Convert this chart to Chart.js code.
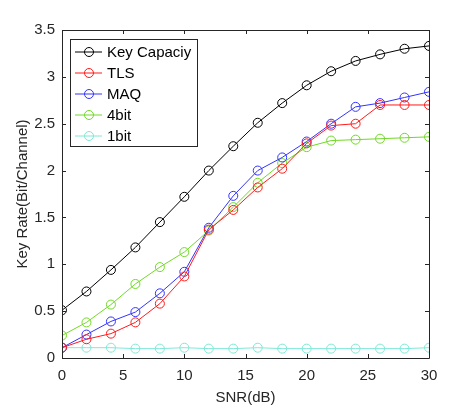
<!DOCTYPE html>
<html>
<head>
<meta charset="utf-8">
<script src="https://cdn.jsdelivr.net/npm/chart.js@4"></script>
<style>
  body { margin: 0; background: #fff; }
  #wrap { width: 474px; height: 405px; }
</style>
</head>
<body>
<div id="wrap"><canvas id="rateChart" width="474" height="405"></canvas></div>
<script>
// SNR values (dB)
const snr = [0, 2, 4, 6, 8, 10, 12, 14, 16, 18, 20, 22, 24, 26, 28, 30];

// Key rate series
const keyCapacity = [0.51, 0.71, 0.94, 1.18, 1.45, 1.72, 2.00, 2.26, 2.51, 2.72, 2.91, 3.06, 3.17, 3.24, 3.30, 3.33];
const tls = [0.11, 0.20, 0.26, 0.38, 0.58, 0.87, 1.37, 1.58, 1.82, 2.02, 2.29, 2.48, 2.50, 2.70, 2.70, 2.70];
const maq = [0.11, 0.25, 0.39, 0.49, 0.69, 0.92, 1.39, 1.73, 2.00, 2.14, 2.31, 2.50, 2.68, 2.72, 2.78, 2.84];
const bit4 = [0.24, 0.38, 0.57, 0.79, 0.97, 1.13, 1.36, 1.61, 1.87, 2.08, 2.25, 2.32, 2.33, 2.34, 2.35, 2.36];
const bit1 = [0.11, 0.11, 0.11, 0.10, 0.10, 0.11, 0.10, 0.10, 0.11, 0.10, 0.10, 0.10, 0.10, 0.10, 0.10, 0.11];

const seriesLabels = ['Key Capaciy', 'TLS', 'MAQ', '4bit', '1bit'];
const seriesColors = ['#000000', '#ff1a1a', '#3333ff', '#70d926', '#7ee8d6'];
const seriesValues = [keyCapacity, tls, maq, bit4, bit1];

const xTicks = [0, 5, 10, 15, 20, 25, 30];
const yTicks = [0, 0.5, 1, 1.5, 2, 2.5, 3, 3.5];

const axisColor = '#262626';
const fontFamily = '"Liberation Sans", Arial, Helvetica, sans-serif';

// Build datasets
const datasets = seriesValues.map(function(vals, i) {
    return {
        label: seriesLabels[i],
        data: vals.map((v, j) => ({ x: snr[j], y: v })),
        borderColor: seriesColors[i],
        pointBorderColor: seriesColors[i],
        pointBackgroundColor: 'rgba(0,0,0,0)',
        borderWidth: 1,
        pointBorderWidth: 1,
        pointRadius: 4.5,
        pointStyle: 'circle',
        tension: 0,
        fill: false
    };
});

// MATLAB-like box, inward ticks and legend inside the axes
const matlabFrame = {
    id: 'matlabFrame',
    afterDatasetsDraw(chart) {
        const ctx = chart.ctx;
        const a = chart.chartArea;
        const xs = chart.scales.x;
        const ys = chart.scales.y;
        const tl = 4;
        ctx.save();
        ctx.strokeStyle = axisColor;
        ctx.lineWidth = 1;
        ctx.beginPath();
        ctx.rect(a.left + 0.5, a.top + 0.5, a.right - a.left, a.bottom - a.top);
        ctx.stroke();
        ctx.beginPath();
        xTicks.forEach(function(t) {
            const px = Math.round(xs.getPixelForValue(t)) + 0.5;
            ctx.moveTo(px, a.bottom);
            ctx.lineTo(px, a.bottom - tl);
            ctx.moveTo(px, a.top);
            ctx.lineTo(px, a.top + tl);
        });
        yTicks.forEach(function(t) {
            const py = Math.round(ys.getPixelForValue(t)) + 0.5;
            ctx.moveTo(a.left, py);
            ctx.lineTo(a.left + tl, py);
            ctx.moveTo(a.right, py);
            ctx.lineTo(a.right - tl, py);
        });
        ctx.stroke();

        // legend box
        const lx = a.left + 8, ly = a.top + 9, lw = 127, lh = 107;
        ctx.fillStyle = '#ffffff';
        ctx.fillRect(lx, ly, lw, lh);
        ctx.strokeStyle = axisColor;
        ctx.strokeRect(lx + 0.5, ly + 0.5, lw, lh);
        ctx.font = '15px ' + fontFamily;
        ctx.textBaseline = 'middle';
        chart.data.datasets.forEach(function(ds, i) {
            const ry = ly + 13 + i * 21;
            ctx.strokeStyle = ds.borderColor;
            ctx.beginPath();
            ctx.moveTo(lx + 5, ry);
            ctx.lineTo(lx + 32, ry);
            ctx.stroke();
            ctx.beginPath();
            ctx.arc(lx + 19, ry, 4.5, 0, Math.PI * 2);
            ctx.stroke();
            ctx.fillStyle = '#000000';
            ctx.fillText(ds.label, lx + 37, ry + 1);
        });
        ctx.restore();
    }
};

new Chart(document.getElementById('rateChart'), {
    type: 'line',
    data: { datasets: datasets },
    options: {
        responsive: false,
        animation: false,
        devicePixelRatio: 1,
        layout: { padding: { top: 30, right: 45, left: 0, bottom: 0 } },
        plugins: {
            legend: { display: false },
            tooltip: { enabled: false }
        },
        scales: {
            x: {
                type: 'linear',
                min: 0,
                max: 30,
                afterBuildTicks: function(scale) { scale.ticks = xTicks.map(v => ({ value: v })); },
                afterFit: function(scale) { scale.height = 47; },
                grid: { display: false, drawTicks: false },
                border: { display: false },
                ticks: { color: axisColor, padding: 9, font: { size: 15, family: fontFamily }, maxRotation: 0,
                         callback: v => String(v) },
                title: { display: true, text: 'SNR(dB)', color: axisColor, padding: { top: 0, bottom: -2 }, font: { size: 15, family: fontFamily } }
            },
            y: {
                type: 'linear',
                min: 0,
                max: 3.5,
                afterBuildTicks: function(scale) { scale.ticks = yTicks.map(v => ({ value: v })); },
                afterFit: function(scale) { scale.width = 62; },
                grid: { display: false, drawTicks: false },
                border: { display: false },
                ticks: { color: axisColor, padding: 7, font: { size: 15, family: fontFamily },
                         callback: v => String(v) },
                title: { display: true, text: 'Key Rate(Bit/Channel)', color: axisColor, padding: { top: 14, bottom: 0 }, font: { size: 15, family: fontFamily } }
            }
        }
    },
    plugins: [matlabFrame]
});
</script>
</body>
</html>
